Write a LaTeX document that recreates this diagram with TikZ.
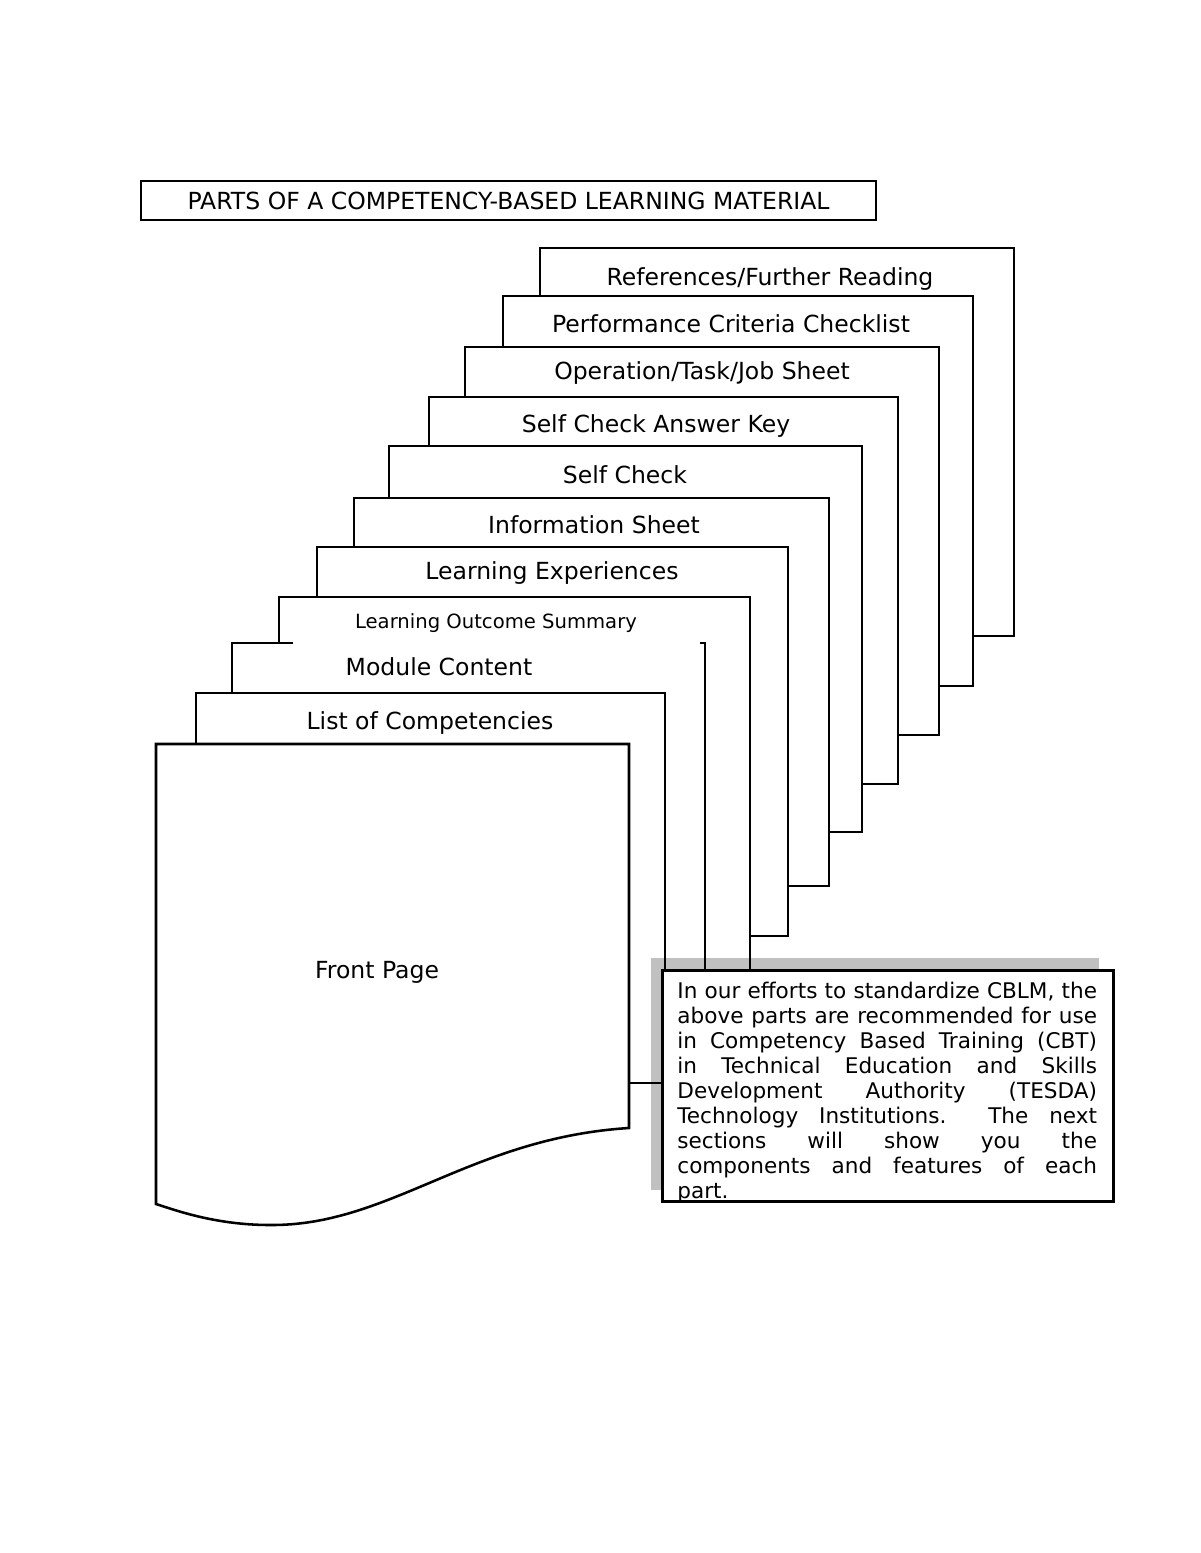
\documentclass[tikz,border=0pt]{standalone}
\usepackage{fontspec}
\setmainfont{DejaVu Sans}
\definecolor{shadowgray}{RGB}{192,192,192}
\newlength\notew
\setlength\notew{214pt}
\begin{document}
\begin{tikzpicture}[x=0.51pt, y=-0.51pt,
    page/.style={line width=1.3pt, line join=miter},
    lbl/.style={inner sep=0pt, anchor=base, font=\fontsize{12}{14}\selectfont},
    notebox/.style={fill=white, inner sep=0pt,
        minimum width=229.5pt, minimum height=117.3pt}]
    \useasboundingbox (0,0) rectangle (1200,1553);

    % title
    \node[draw, line width=1.3pt, inner sep=0pt, minimum width=374.9pt, minimum height=19.9pt,
        font=\fontsize{12}{14}\selectfont] (title) at (508.5,200.5) {PARTS OF A COMPETENCY-BASED LEARNING MATERIAL};

    % shadow of the note
    \fill[shadowgray] (651,958) rectangle (1099,1190);

    % stacked pages, back to front
    \foreach \l/\t/\r/\b/\ft/\fr in {540/248/1014/636/296/973, 503/296/973/686/347/939,
        465/347/939/735/397/898, 429/397/898/784/446/862, 389/446/862/832/498/829,
        354/498/829/886/547/788, 317/547/788/936/597/750}
        \draw[page] (\l,\ft) -- (\l,\t) -- (\r,\t) -- (\r,\b) -- (\fr,\b);

    \draw[page] (279,643) -- (279,597) -- (750,597) -- (750,971);
    \draw[page] (232,693) -- (232,643) -- (293,643);
    \draw[page] (700,643) -- (705,643) -- (705,971);
    \draw[page] (196,744) -- (196,693) -- (665,693) -- (665,971);
    \draw[page, fill=white] (156,744) -- (629,744) -- (629,1128)
        .. controls (470,1138) and (390,1226) .. (270,1225)
        .. controls (215,1225) and (175,1210) .. (156,1204) -- cycle;

    \node[lbl] (ref) at (770,286) {References/Further Reading};
    \node[lbl] (pcc) at (731,332) {Performance Criteria Checklist};
    \node[lbl] (otj) at (702,379) {Operation/Task/Job Sheet};
    \node[lbl] (sck) at (656,432) {Self Check Answer Key};
    \node[lbl] (sc) at (625,483) {Self Check};
    \node[lbl] (is) at (594,533) {Information Sheet};
    \node[lbl] (le) at (552,579) {Learning Experiences};
    \node[lbl, font=\fontsize{10}{12}\selectfont] (los) at (496,628) {Learning Outcome Summary};
    \node[lbl] (mc) at (439,675) {Module Content};
    \node[lbl] (loc) at (430,729) {List of Competencies};
    \node[lbl] (fp) at (377,978) {Front Page};

    % note
    \node[notebox] (note) at (888,1086) {};
    \coordinate (fpedge) at (629,1083);
    \draw[line width=1.3pt] (fpedge) -- (fpedge -| note.west);
    \begin{scope}
        \clip (note.south west) rectangle (note.north east);
        \node[inner sep=0pt, anchor=north west, text width=\notew, align=justify,
            font=\fontsize{11}{12.75}\selectfont] (notetext) at (677,982) {%
            In our efforts to standardize CBLM, the\linebreak
            above parts are recommended for use\linebreak
            in Competency Based Training (CBT)\linebreak
            in Technical Education and Skills\linebreak
            Development Authority (TESDA)\linebreak
            Technology Institutions.\ \ The next\linebreak
            sections will show you the\linebreak
            components and features of each\linebreak
            part.};
    \end{scope}
    \draw[line width=1.3pt] (note.south west) rectangle (note.north east);
\end{tikzpicture}
\end{document}
